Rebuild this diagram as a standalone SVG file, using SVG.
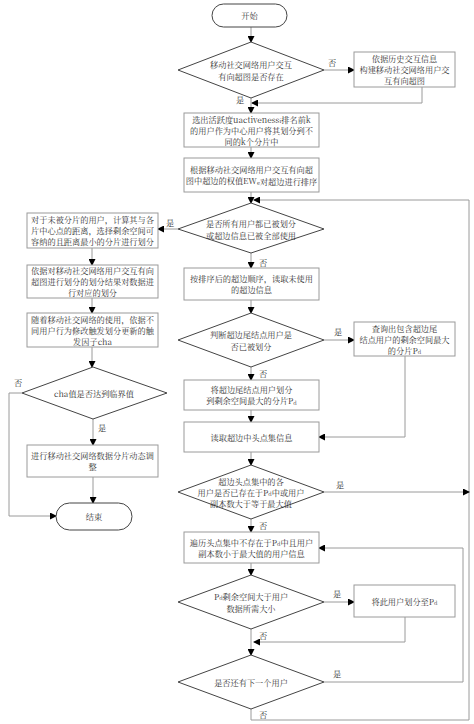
<svg xmlns="http://www.w3.org/2000/svg" width="474" height="724" viewBox="0 0 474 724">
<style>
text{font-family:"Noto Serif CJK SC","Noto Sans CJK SC",serif;font-size:8.2px;fill:#333;text-anchor:middle;dominant-baseline:central}
.box{fill:#fff;stroke:#9a9a9a;stroke-width:1}
.dia{fill:#fff;stroke:#444;stroke-width:1}
.term{fill:#fff;stroke:#444;stroke-width:1}
.ln{fill:none;stroke:#9a9a9a;stroke-width:1}
.sub{font-size:5.5px}
</style>
<defs>
<marker id="ah" markerWidth="7" markerHeight="7" refX="6" refY="3.5" orient="auto" markerUnits="userSpaceOnUse">
<path d="M0,0 L7,3.5 L0,7 Z" fill="#000"/>
</marker>
</defs>
<rect width="474" height="724" fill="#fff"/>
<g id="connectors">
<path class="ln" d="M251,27 V42" marker-end="url(#ah)"/>
<path class="ln" d="M324,70 H354" marker-end="url(#ah)"/>
<path class="ln" d="M422,87 V103 H252" marker-end="url(#ah)"/>
<path class="ln" d="M251,98 V113" marker-end="url(#ah)"/>
<path class="ln" d="M251,147 V158" marker-end="url(#ah)"/>
<path class="ln" d="M251,192 V203" marker-end="url(#ah)"/>
<path class="ln" d="M251,709 V720 H469 V200 H254" marker-end="url(#ah)"/>
<path class="ln" d="M178,229 H158" marker-end="url(#ah)"/>
<path class="ln" d="M92,248 V265" marker-end="url(#ah)"/>
<path class="ln" d="M92,298 V313" marker-end="url(#ah)"/>
<path class="ln" d="M92,347 V367" marker-end="url(#ah)"/>
<path class="ln" d="M22,393 H9 V516 H56" marker-end="url(#ah)"/>
<path class="ln" d="M93,419 V445" marker-end="url(#ah)"/>
<path class="ln" d="M93,477 V503" marker-end="url(#ah)"/>
<path class="ln" d="M251,253 V268" marker-end="url(#ah)"/>
<path class="ln" d="M251,300 V313" marker-end="url(#ah)"/>
<path class="ln" d="M324,340 H354" marker-end="url(#ah)"/>
<path class="ln" d="M405,356 V437 H319" marker-end="url(#ah)"/>
<path class="ln" d="M251,367 V380" marker-end="url(#ah)"/>
<path class="ln" d="M251,410 V422" marker-end="url(#ah)"/>
<path class="ln" d="M251,452 V465" marker-end="url(#ah)"/>
<path class="ln" d="M324,492 H469" marker-end="url(#ah)"/>
<path class="ln" d="M251,519 V532" marker-end="url(#ah)"/>
<path class="ln" d="M324,682 H463 V548 H319" marker-end="url(#ah)"/>
<path class="ln" d="M251,563 V575" marker-end="url(#ah)"/>
<path class="ln" d="M324,602 H354" marker-end="url(#ah)"/>
<path class="ln" d="M405,617 V642 H254" marker-end="url(#ah)"/>
<path class="ln" d="M251,629 V655" marker-end="url(#ah)"/>
<text x="332" y="62">否</text>
<text x="240" y="99">是</text>
<text x="170" y="222">是</text>
<text x="18" y="382">否</text>
<text x="102" y="427">是</text>
<text x="263" y="262">否</text>
<text x="338" y="331">是</text>
<text x="263" y="373">否</text>
<text x="340" y="484">是</text>
<text x="263" y="525">否</text>
<text x="337" y="593">是</text>
<text x="263" y="635">否</text>
<text x="337" y="673">是</text>
<text x="263" y="714">否</text>
</g>
<g id="start"><rect class="term" x="212" y="4" width="75" height="23" rx="11.5"/><text x="249.5" y="15.5">开始</text></g>
<g id="d1"><polygon class="dia" points="251,42 324,70 251,98 178,70"/><text x="251" y="64">移动社交网络用户交互</text><text x="251" y="76">有向超图是否存在</text></g>
<g id="r1"><rect class="box" x="354" y="52" width="101" height="35"/><text x="404.5" y="58.5">依据历史交互信息</text><text x="404.5" y="69.5">构建移动社交网络用户交</text><text x="404.5" y="80.5">互有向超图</text></g>
<g id="b2"><rect class="box" x="184" y="113" width="135" height="34"/><text x="251.5" y="119">选出活跃度uactiveness<tspan class="sub" dy="2">i</tspan><tspan dy="-2">排名前k</tspan></text><text x="251.5" y="130">的用户作为中心用户将其划分到不</text><text x="251.5" y="141">同的k个分片中</text></g>
<g id="b3"><rect class="box" x="184" y="158" width="135" height="34"/><text x="251.5" y="169.5">根据移动社交网络用户交互有向超</text><text x="251.5" y="180.5">图中超边的权值EW<tspan class="sub" dy="2">e</tspan><tspan dy="-2">对超边进行排序</tspan></text></g>
<g id="d2"><polygon class="dia" points="251,203 324,229 251,253 178,229"/><text x="251" y="223">是否所有用户都已被划分</text><text x="251" y="235">或超边信息已被全部使用</text></g>
<g id="ba"><rect class="box" x="27" y="213" width="131" height="35"/><text x="92.5" y="219.5">对于未被分片的用户，计算其与各</text><text x="92.5" y="230.5">片中心点的距离，选择剩余空间可</text><text x="92.5" y="241.5">容纳的且距离最小的分片进行划分</text></g>
<g id="bb"><rect class="box" x="27" y="265" width="131" height="33"/><text x="92.5" y="270.5">依据对移动社交网络用户交互有向</text><text x="92.5" y="281.5">超图进行划分的划分结果对数据进</text><text x="92.5" y="292.5">行对应的划分</text></g>
<g id="bc"><rect class="box" x="27" y="313" width="131" height="34"/><text x="92.5" y="319">随着移动社交网络的使用，依据不</text><text x="92.5" y="330">同用户行为修改触发划分更新的触</text><text x="92.5" y="341">发因子cha</text></g>
<g id="dcha"><polygon class="dia" points="93,367 167,393 93,419 22,393"/><text x="94" y="393">cha值是否达到临界值</text></g>
<g id="bd"><rect class="box" x="27" y="445" width="131" height="32"/><text x="92.5" y="455.5">进行移动社交网络数据分片动态调</text><text x="92.5" y="466.5">整</text></g>
<g id="end"><rect class="term" x="56" y="503" width="76" height="27" rx="13.5"/><text x="94" y="516.5">结束</text></g>
<g id="b4"><rect class="box" x="184" y="268" width="135" height="32"/><text x="251.5" y="278.5">按排序后的超边顺序，读取未使用</text><text x="251.5" y="289.5">的超边信息</text></g>
<g id="d3"><polygon class="dia" points="251,313 324,340 251,367 178,340"/><text x="251" y="334">判断超边尾结点用户是</text><text x="251" y="346">否已被划分</text></g>
<g id="r2"><rect class="box" x="354" y="322" width="101" height="34"/><text x="404.5" y="328">查询出包含超边尾</text><text x="404.5" y="339">结点用户的剩余空间最大</text><text x="404.5" y="350">的分片P<tspan class="sub" dy="2">d</tspan></text></g>
<g id="b5"><rect class="box" x="184" y="380" width="135" height="30"/><text x="251.5" y="389.5">将超边尾结点用户划分</text><text x="251.5" y="400.5">到剩余空间最大的分片P<tspan class="sub" dy="2">d</tspan></text></g>
<g id="b6"><rect class="box" x="184" y="422" width="135" height="30"/><text x="251.5" y="437">读取超边中头点集信息</text></g>
<g id="d4"><polygon class="dia" points="251,465 324,492 251,519 178,492"/><text x="251" y="481">超边头点集中的各</text><text x="251" y="492">用户是否已存在于P<tspan class="sub" dy="2">d</tspan><tspan dy="-2">中或用户</tspan></text><text x="251" y="503">副本数大于等于最大值</text></g>
<g id="b7"><rect class="box" x="184" y="532" width="135" height="31"/><text x="251.5" y="542">遍历头点集中不存在于P<tspan class="sub" dy="2">d</tspan><tspan dy="-2">中且用户</tspan></text><text x="251.5" y="553">副本数小于最大值的用户信息</text></g>
<g id="d5"><polygon class="dia" points="251,575 324,602 251,629 178,602"/><text x="251" y="596">P<tspan class="sub" dy="2">d</tspan><tspan dy="-2">剩余空间大于用户</tspan></text><text x="251" y="608">数据所需大小</text></g>
<g id="r3"><rect class="box" x="354" y="585" width="101" height="32"/><text x="404.5" y="601">将此用户划分至P<tspan class="sub" dy="2">d</tspan></text></g>
<g id="d6"><polygon class="dia" points="251,655 324,682 251,709 178,682"/><text x="251" y="682">是否还有下一个用户</text></g>
</svg>
